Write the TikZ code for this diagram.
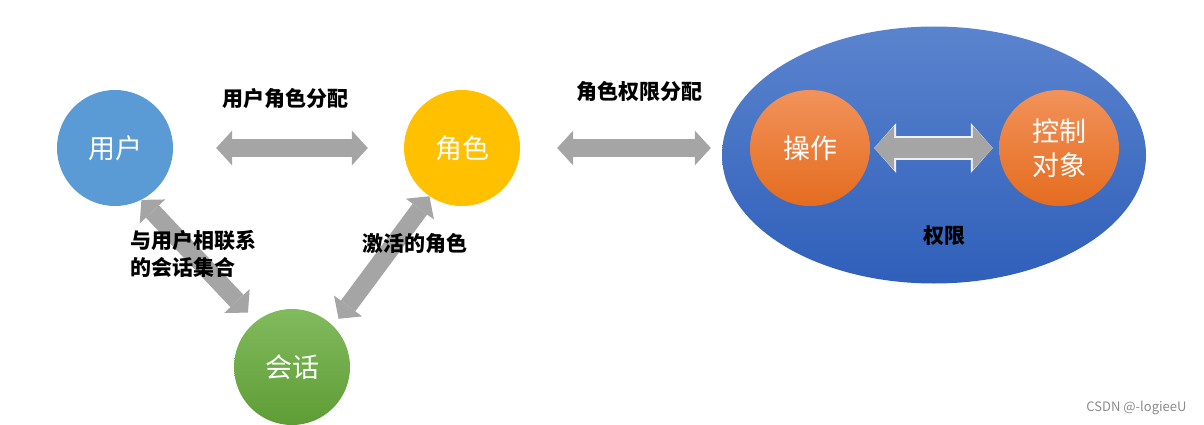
\documentclass[tikz,border=0pt]{standalone}
\usepackage{fontspec}
\setmainfont{Noto Sans CJK SC}
\usepackage{xcolor}
\usepackage{tikz}
\usetikzlibrary{calc, shapes, arrows.meta, positioning}
\definecolor{userBlue}{HTML}{5B9BD5}
\definecolor{roleGold}{HTML}{FFC000}
\definecolor{sessTop}{HTML}{82BA5E}
\definecolor{sessBottom}{HTML}{5E9D35}
\definecolor{opTop}{HTML}{F2925A}
\definecolor{opBottom}{HTML}{E46C1F}
\definecolor{permTop}{HTML}{5B84CE}
\definecolor{permBottom}{HTML}{2F5FBA}
\definecolor{linkGray}{HTML}{A5A5A5}
\definecolor{markGray}{HTML}{8A8A8A}

\begin{document}
\begin{tikzpicture}[
    x=1pt, y=-1pt,
    circ/.style={circle, minimum size=116pt, inner sep=0pt, text=white, align=center, font=\fontsize{27}{34}\selectfont},
    oval/.style={ellipse, minimum width=120pt, minimum height=116pt, inner sep=0pt, text=white, align=center, top color=opTop, bottom color=opBottom, font=\fontsize{27}{34}\selectfont},
    tag/.style={font=\fontsize{21}{27}\selectfont\bfseries, text=black, align=left, inner sep=0pt},
    link/.style={line width=18pt, linkGray, {Triangle[length=16pt, width=35pt, line width=0pt]}-{Triangle[length=16pt, width=35pt, line width=0pt]}},
    inlink/.style={preaction={draw=white!88!gray, line width=23pt, {Triangle[length=22pt, width=50pt, line width=0pt]}-{Triangle[length=22pt, width=50pt, line width=0pt]}},
        line width=19pt, linkGray, {Triangle[length=20pt, width=44pt, line width=0pt]}-{Triangle[length=20pt, width=44pt, line width=0pt]}}
]
\useasboundingbox (0,0) rectangle (1204,425);

% Nodes
\node[circ, fill=userBlue] (user) at (115,148) {用户};
\node[circ, fill=roleGold] (role) at (462,148) {角色};
\node[circ, top color=sessTop, bottom color=sessBottom] (session) at (292,367) {会话};

\node[ellipse, minimum width=424pt, minimum height=257pt, top color=permTop, bottom color=permBottom] (perm) at (934,155) {};
\node[oval] (op) at (810,148) {操作};
\node[oval] (obj) at (1059,148) {控制\\对象};
\node[tag, above=38pt of perm.south, xshift=10pt] (permtag) {权限};

\node[anchor=east, text=markGray, font=\fontsize{13}{15}\selectfont] (mark) at (1190,408) {CSDN @-logieeU};

% Edges
\draw[link, shorten <=43pt, shorten >=36pt] (user) -- node[tag, xshift=-3pt, yshift=49pt] {用户角色分配} (role);
\draw[link] (user.-63) -- node[tag, xshift=-1pt, yshift=2pt] {与用户相联系\\的会话集合} ($(session.center)+(129:70pt)$);
\draw[link] (role.-124) -- node[tag, xshift=31pt, yshift=14pt] {激活的角色} ($(session.center)+(46:67pt)$);
\draw[link, shorten <=37pt, shorten >=11pt] (role.east) -- node[tag, xshift=18pt, yshift=56pt] {角色权限分配} (role.east -| perm.west);
\draw[inlink, shorten <=4pt, shorten >=6pt] (op) -- (obj);

\end{tikzpicture}
\end{document}
